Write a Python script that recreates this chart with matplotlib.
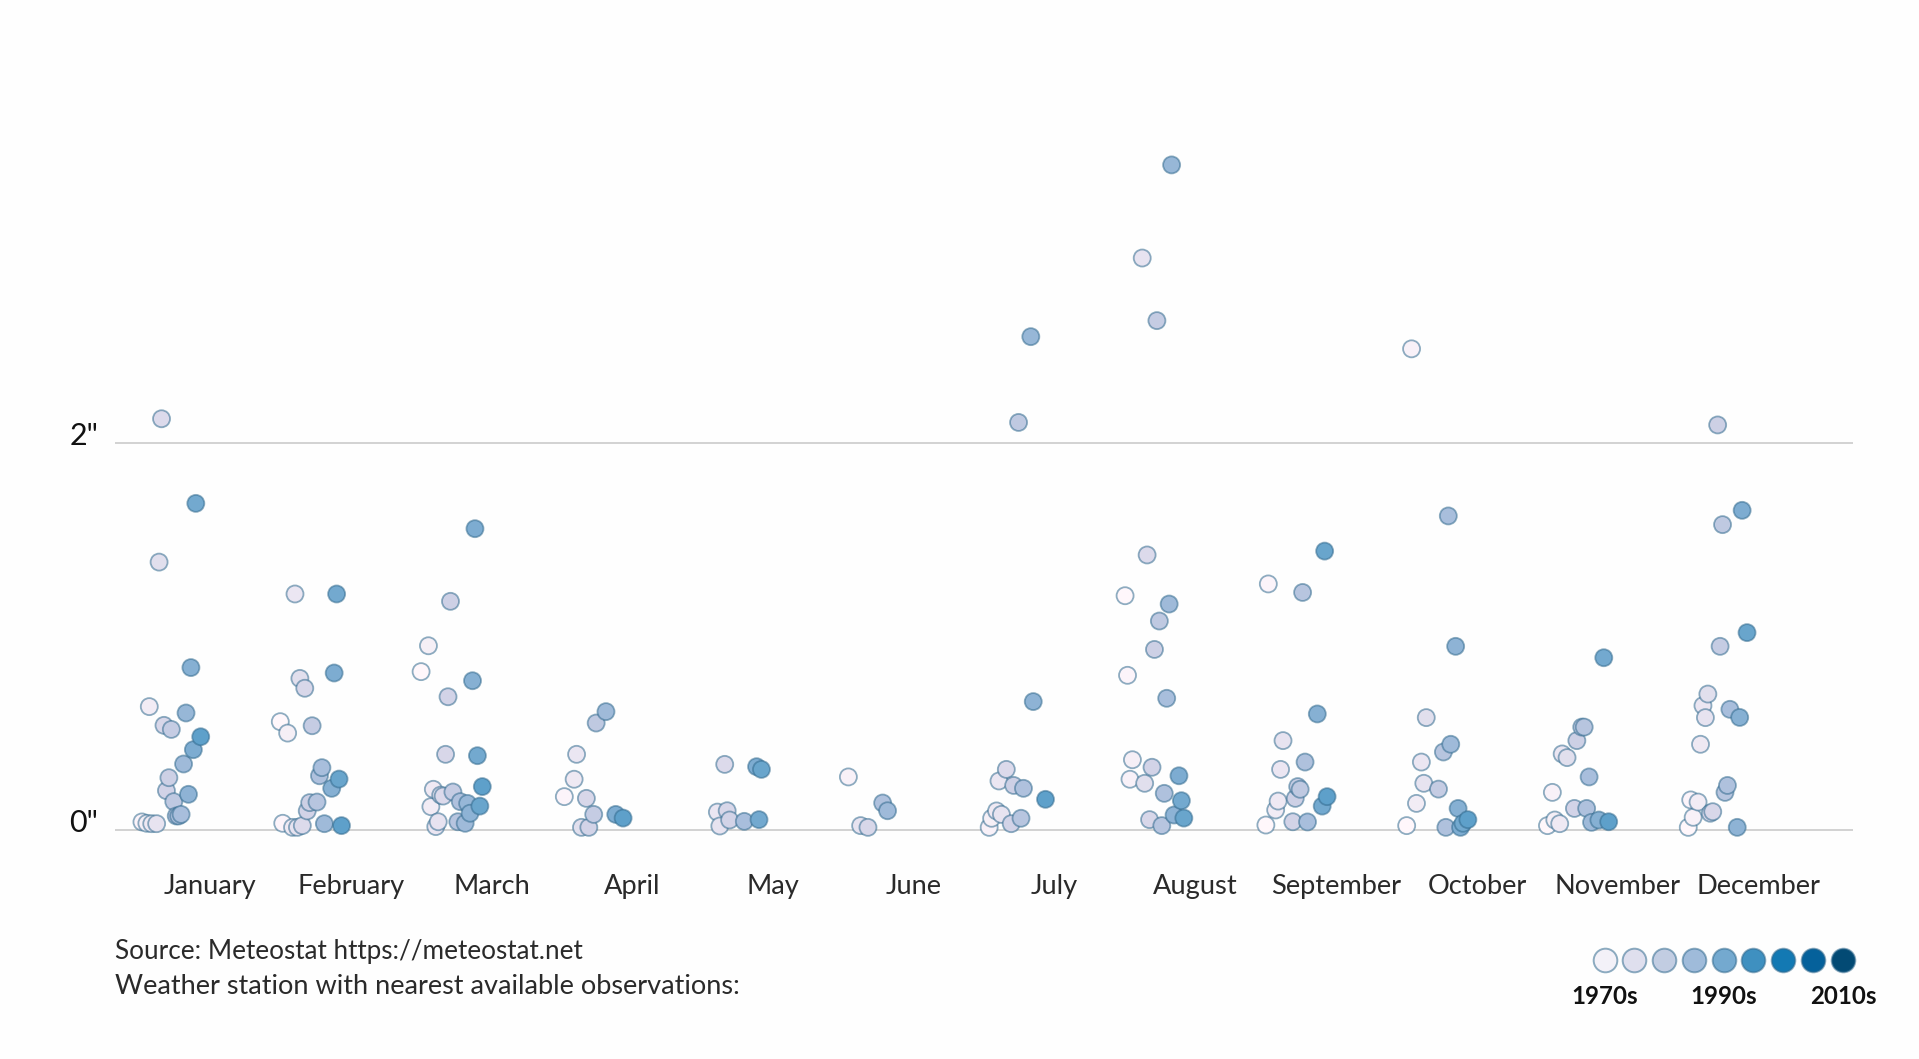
import numpy as np
import matplotlib
matplotlib.use('Agg')
import matplotlib.pyplot as plt
from matplotlib.colors import LinearSegmentedColormap, to_rgba

plt.rcParams['font.family'] = ['Lato', 'DejaVu Sans']

months = ['January', 'February', 'March', 'April', 'May', 'June', 'July',
          'August', 'September', 'October', 'November', 'December']

# years since 1970 and rainfall in inches, one pair per month
jan_yr = [1, 3, 4, 5, 7, 8, 9, 10, 11, 12, 13, 14, 15, 16, 17, 18, 19, 20, 21, 22, 23, 25]
jan_in = [.040, .033, .637, .031, .031, 1.385, 2.127, .540, .202, .269, .519, .145, .071, .071, .079,
          .340, .604, .183, .839, .414, 1.689, .481]
feb_yr = [0, 1, 3, 5, 6, 7, 8, 9, 10, 11, 12, 13, 15, 16, 17, 18, 21, 22, 23, 24, 25]
feb_in = [.559, .033, .500, .012, 1.220, .012, .783, .021, .732, .097, .140, .538, .143, .279, .321,
          .031, .214, .811, 1.220, .262, .021]
mar_yr = [0, 3, 4, 5, 6, 7, 8, 9, 10, 11, 12, 13, 15, 16, 18, 19, 20, 21, 22, 23, 24, 25]
mar_in = [.818, .952, .119, .209, .016, .041, .179, .174, .390, .688, 1.182, .195, .041, .145, .033,
          .136, .085, .771, 1.558, .383, .122, .223]
apr_yr = [1, 5, 6, 8, 10, 11, 13, 14, 18, 22, 25]
apr_in = [.171, .261, .390, .012, .162, .012, .079, .552, .611, .079, .060]
may_yr = [6, 7, 9, 10, 11, 17, 22, 23, 24]
may_in = [.091, .019, .338, .098, .050, .043, .326, .052, .312]
jun_yr = [2, 7, 10, 16, 18]
jun_in = [.273, .021, .012, .138, .098]
jul_yr = [2, 3, 5, 6, 7, 9, 11, 12, 14, 15, 16, 19, 20, 25]
jul_in = [.012, .059, .097, .252, .079, .312, .031, .229, 2.108, .059, .214, 2.552, .663, .157]
aug_yr = [0, 1, 2, 3, 7, 8, 9, 10, 11, 12, 13, 14, 15, 16, 17, 18, 19, 20, 22, 23, 24]
aug_in = [1.211, .799, .261, .362, 2.959, .240, 1.422, .052, .323, .933, 2.635, 1.080, .021, .188,
          .680, 1.168, 3.441, .076, .279, .150, .060]
sep_yr = [0, 1, 4, 5, 6, 7, 11, 12, 13, 14, 15, 16, 17, 21, 23, 24, 25]
sep_in = [.024, 1.272, .102, .148, .312, .461, .041, .162, .223, .209, 1.228, .350, .040, .599,
          .122, 1.442, .171]
oct_yr = [0, 2, 4, 6, 7, 8, 13, 15, 16, 17, 18, 20, 21, 22, 23, 25]
oct_in = [.021, 2.489, .136, .350, .240, .580, .210, .402, .012, 1.624, .442, .949, .110, .012, .033, .052]
nov_yr = [0, 2, 3, 5, 6, 8, 11, 12, 14, 15, 16, 17, 18, 21, 23, 25]
nov_in = [.021, .193, .050, .031, .392, .373, .110, .461, .531, .531, .110, .273, .038, .050, .890, .041]
dec_yr = [0, 1, 2, 4, 5, 6, 7, 8, 9, 10, 12, 13, 14, 15, 16, 17, 20, 21, 22, 24]
dec_in = [.012, .154, .064, .143, .442, .642, .580, .702, .085, .093, 2.095, .949, 1.579, .193, .229,
          .623, .012, .581, 1.653, 1.020]

all_yr = [jan_yr, feb_yr, mar_yr, apr_yr, may_yr, jun_yr, jul_yr, aug_yr, sep_yr, oct_yr, nov_yr, dec_yr]
all_in = [jan_in, feb_in, mar_in, apr_in, may_in, jun_in, jul_in, aug_in, sep_in, oct_in, nov_in, dec_in]

legend_colors = ['#f3f1f8', '#dfdfee', '#c2cde2', '#9fbbda', '#74a9cf', '#3f90c0', '#1379b3', '#05619b', '#034a74']
legend_labels = ['1970s', '1990s', '2010s']

W, H = 1919, 1059
YEARS_PER_BAND = 57.5
EDGE = to_rgba('#336b8f', 0.55)

cmap = LinearSegmentedColormap.from_list('pubu', ['#fff7fb', '#ece7f2', '#d0d1e6', '#a6bddb', '#74a9cf',
                                                  '#3690c0', '#0570b0', '#045a8d', '#023858'])

fig = plt.figure(figsize=(W / 100, H / 100), dpi=100, facecolor='#fefefe')
# axes box in pixels: x 115-1853, y 100-860
ax = fig.add_axes([115 / W, 1 - 860 / H, (1853 - 115) / W, 760 / H])
ax.set_facecolor('none')
ax.set_xlim(-0.174, 12.17)
ax.set_ylim(-0.157, 3.777)
for s in ax.spines.values():
    s.set_visible(False)

ax.set_yticks([0, 2])
ax.set_yticklabels([])
ax.grid(axis='y', color='#c6c6c6', lw=1.1)
ax.set_axisbelow(True)
ax.set_xticks(np.arange(12) + 0.5)
ax.set_xticklabels(months, fontsize=19.6, color='#2a2a2a')
ax.tick_params(length=0)
ax.tick_params(axis='x', pad=10)

for m in range(12):
    yr = np.array(all_yr[m])
    rain = np.array(all_in[m])
    order = np.argsort(yr)
    colors = cmap(yr[order] / 46)
    ax.scatter(m + yr[order] / YEARS_PER_BAND, rain[order], s=150, c=colors,
               edgecolors=[EDGE], linewidths=1.3, clip_on=False, zorder=3)

for val, lab in [(0, '0"'), (2, '2"')]:
    ax.annotate(lab, (0, val), xycoords=('axes fraction', 'data'), xytext=(-17, 7),
                textcoords='offset pixels', ha='right', va='center', fontsize=22,
                color='#111111')

# footer and legend in pixel coords
over = fig.add_axes([0, 0, 1, 1])
over.set_xlim(0, W)
over.set_ylim(H, 0)
over.axis('off')
over.text(115, 951, 'Source: Meteostat https://meteostat.net', fontsize=18.8, va='center',
          color='#2a2a2a')
over.text(115, 986, 'Weather station with nearest available observations:', fontsize=19.5, va='center',
          color='#2a2a2a')
for i, c in enumerate(legend_colors):
    over.scatter(1604.7 + i * 29.75, 960, s=290, color=c, edgecolors=[EDGE], linewidths=1.4, zorder=3)
for i, lab in enumerate(legend_labels):
    over.text(1605 + i * 119, 996, lab, fontsize=17.3, fontweight='bold', ha='center', va='center',
              color='#111111')

fig.savefig('out.png', dpi=100, facecolor=fig.get_facecolor())
